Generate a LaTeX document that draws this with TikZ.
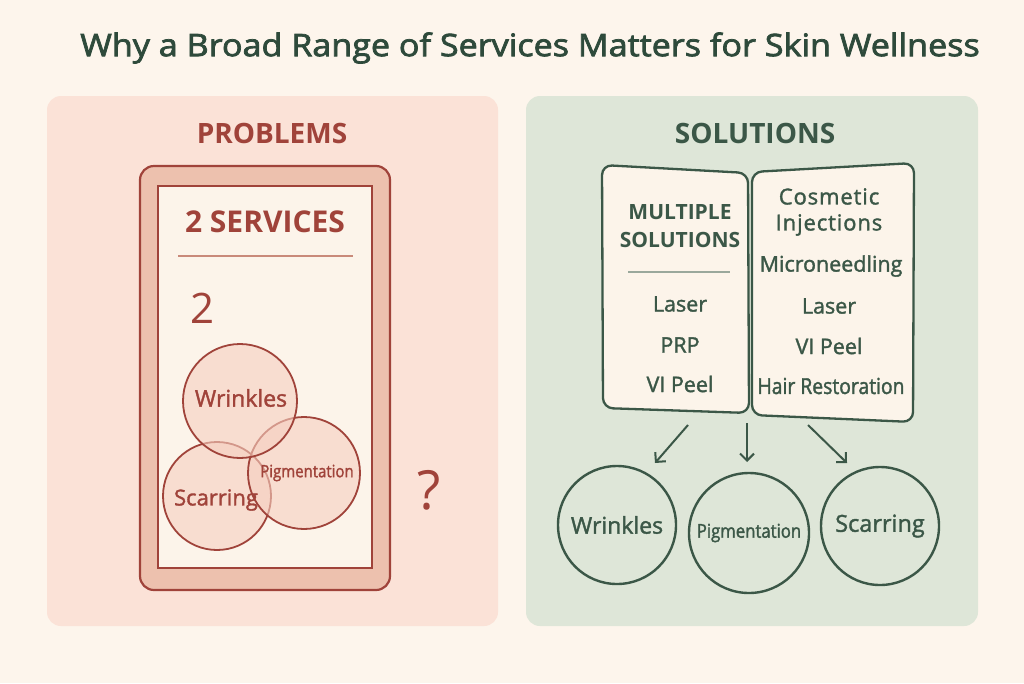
\documentclass[tikz,border=0pt]{standalone}
\usepackage{fontspec}
\setmainfont{Open Sans}
\newfontfamily\medf[FakeBold=1.6]{Open Sans}
\newfontfamily\medcond[FakeBold=1.6,FakeStretch=0.88]{Open Sans}
\newfontfamily\titlef[FakeBold=2.4,FakeStretch=1.1]{Open Sans}
\newfontfamily\wideh[FakeBold=1.6,LetterSpace=4]{Open Sans}
\usetikzlibrary{arrows.meta}
\definecolor{bgc}{HTML}{FDF5EC}
\definecolor{pinkp}{HTML}{FBE2D7}
\definecolor{greenp}{HTML}{DEE6D8}
\definecolor{redc}{HTML}{A0433A}
\definecolor{framef}{HTML}{EDC1AE}
\definecolor{innerf}{HTML}{FCF4EA}
\definecolor{circf}{HTML}{F6CFC0}
\definecolor{greenc}{HTML}{3B5747}
\definecolor{titlec}{HTML}{2E4A3B}
\definecolor{rulered}{HTML}{C98A7A}
\definecolor{rulegreen}{HTML}{9AA89C}
\tikzset{
  hdr/.style={font=\bfseries\fontsize{28}{32}\selectfont},
  redtxt/.style={text=redc},
  grtxt/.style={text=greenc},
  bodytxt/.style={font=\medf\fontsize{21.5}{26}\selectfont},
  probcirc/.style={circle,draw=redc,line width=1.8pt,fill=circf,fill opacity=0.6,text opacity=1,text=redc,inner sep=0pt},
  solcirc/.style={circle,draw=greenc,line width=2.4pt,text=greenc,inner sep=0pt,minimum size=118pt},
  page/.style={draw=greenc,line width=2.3pt,fill=innerf,rounded corners=10pt},
  arr/.style={draw=greenc,line width=2pt,-{Straight Barb[length=7pt,width=14pt,line width=2pt]}}
}
\begin{document}
\begin{tikzpicture}[x=1pt,y=-1pt]
\useasboundingbox (0,0) rectangle (1024,683);
\fill[bgc] (0,0) rectangle (1024,683);
% title
\node[text=titlec,font=\titlef\fontsize{31}{36}\selectfont] (title) at (530,48) {Why a Broad Range of Services Matters for Skin Wellness};
% panels
\fill[pinkp,rounded corners=14pt] (47,96) rectangle (498,626);
\fill[greenp,rounded corners=14pt] (526,96) rectangle (978,626);
% PROBLEMS
\node[hdr,redtxt] (problems) at (272,133) {PROBLEMS};
\draw[redc,line width=2.2pt,fill=framef,rounded corners=14pt] (140,166) rectangle (390,590);
\draw[redc,line width=2.2pt,fill=innerf] (158,186) rectangle (372,568);
\node[redtxt,font=\bfseries\fontsize{30}{34}\selectfont] (services) at (265,222) {2 SERVICES};
\draw[rulered,line width=2pt] (178,256) -- (353,256);
\node[redtxt,font=\fontsize{42}{46}\selectfont] (two) at (203,308) {2};
\node[probcirc,minimum size=108pt] (cscar) at (217,496) {};
\node[probcirc,minimum size=112pt] (cpig) at (304,473) {};
\node[probcirc,minimum size=114pt] (cwr) at (240,401) {};
\node[redtxt,font=\medf\fontsize{23}{26}\selectfont] (lwr) at (241,398) {Wrinkles};
\node[redtxt,font=\medcond\fontsize{17}{20}\selectfont] (lpig) at (307,473) {Pigmentation};
\node[redtxt,font=\medf\fontsize{22}{26}\selectfont] (lscar) at (216,500) {Scarring};
\node[redtxt,font=\fontsize{54}{58}\selectfont] (q) at (429,490) {?};
% SOLUTIONS
\node[hdr,grtxt] (solutions) at (755,133) {SOLUTIONS};
\path[page] (602,165) -- (748,173) -- (749,413) -- (603,408) -- cycle;
\path[page] (752,172) -- (914,163) -- (913,422) -- (752,415) -- cycle;
\node[grtxt,font=\bfseries\fontsize{21}{28}\selectfont,align=center] (multi) at (680,226) {MULTIPLE\\SOLUTIONS};
\draw[rulegreen,line width=1.8pt] (628,272) -- (730,272);
\node[grtxt,bodytxt] (l1) at (680,304) {Laser};
\node[grtxt,bodytxt] (l2) at (680,345) {PRP};
\node[grtxt,bodytxt] (l3) at (680,384) {VI Peel};
\node[grtxt,align=center,font=\wideh\fontsize{22}{26}\selectfont] (r1) at (829,212) {Cosmetic\\Injections};
\node[grtxt,bodytxt] (r2) at (831,266) {Microneedling};
\node[grtxt,bodytxt] (r3) at (829,306) {Laser};
\node[grtxt,bodytxt] (r4) at (829,346) {VI Peel};
\node[grtxt,font=\medcond\fontsize{22}{26}\selectfont] (r5) at (831,386) {Hair Restoration};
% circles
\node[solcirc,font=\medf\fontsize{23}{26}\selectfont] (swr) at (617,525) {Wrinkles};
\node[solcirc,minimum size=120pt,font=\medcond\fontsize{19}{22}\selectfont] (spig) at (749,533) {Pigmentation};
\node[solcirc,font=\medf\fontsize{23.5}{26}\selectfont] (sscar) at (880,526) {Scarring};
% arrows
\coordinate (a1) at (688,425);
\coordinate (e1) at (655,463);
\coordinate (a2) at (747,423);
\coordinate (e2) at (747,462);
\coordinate (a3) at (808,425);
\coordinate (e3) at (847,463);
\draw[arr] (a1) -- (e1);
\draw[arr] (a2) -- (e2);
\draw[arr] (a3) -- (e3);
\end{tikzpicture}
\end{document}
